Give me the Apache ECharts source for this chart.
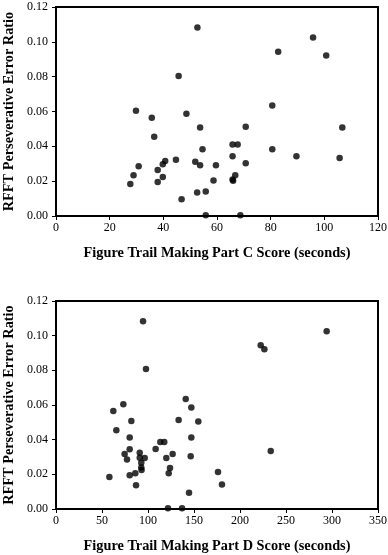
<!DOCTYPE html>
<html>
<head>
<meta charset="utf-8">
<script src="https://cdn.jsdelivr.net/npm/echarts@6/dist/echarts.min.js"></script>
<style>
html,body{margin:0;padding:0;background:#fff;}
#c{width:388px;height:555px;}
</style>
</head>
<body>
<div id="c"></div>
<script>
// Part C scatter data
const partCScore = [27.7,28.9,30.8,36.6,37.9,37.9,39.8,40.7,39.8,44.7,46.8,51.9,52.6,53.7,54.6,55.8,55.8,58.7,59.6,65.8,67.7,65.8,65.8,66.0,66.8,68.7,70.7,80.6,89.6,105.7,
  29.8,35.7,45.7,48.6,52.7,53.7,70.7,80.6,82.8,95.8,100.7,106.7];
const partCRatio = [0.0184,0.0234,0.0285,0.0455,0.0264,0.0195,0.0297,0.0316,0.0224,0.0323,0.0096,0.0312,0.0135,0.0291,0.0383,0.0141,0.0004,0.0204,0.0291,0.0411,0.0411,0.0343,0.0210,0.0202,0.0234,0.0004,0.0303,0.0383,0.0343,0.0333,
  0.0604,0.0564,0.0804,0.0587,0.1083,0.0508,0.0512,0.0635,0.0943,0.1025,0.0922,0.0508];

// Part D scatter data
const partDScore = [58,62.3,65.6,73.2,74.6,77.2,80.1,80.1,80.1,81.9,86.2,87,91,91,92.7,92.7,93,96.4,94.6,97.8,108.3,113.4,117.7,119.9,121.7,122.5,123.9,126.8,133.3,137,141,144.6,146.4,147.1,147.1,154.7,176.1,180.4,222.5,226.5,233.4,294.2];
const partDRatio = [0.0184,0.0565,0.0455,0.0605,0.0317,0.0286,0.0413,0.0344,0.0194,0.0507,0.0206,0.0137,0.0324,0.0296,0.0267,0.0240,0.0225,0.0294,0.1083,0.0807,0.0346,0.0386,0.0386,0.0294,0.0004,0.0206,0.0236,0.0317,0.0513,0.0004,0.0635,0.0094,0.0304,0.0413,0.0586,0.0505,0.0213,0.0142,0.0945,0.0922,0.0334,0.1025];

const yAxisTitle = 'RFFT Perseverative Error Ratio';
const xTitleC = 'Figure Trail Making Part C Score (seconds)';
const xTitleD = 'Figure Trail Making Part D Score (seconds)';

const serif = '"Liberation Serif","Times New Roman",serif';

function xAxis(idx, max, interval, name){
  return {
    type:'value', gridIndex:idx, min:0, max:max, interval:interval,
    name:name, nameLocation:'middle', nameGap:30,
    nameTextStyle:{fontFamily:serif,fontWeight:'bold',fontSize:14.3,color:'#000'},
    axisLine:{show:true,onZero:false,lineStyle:{color:'#000',width:2}},
    axisTick:{show:true,inside:false,length:4,lineStyle:{color:'#000',width:1}},
    axisLabel:{fontFamily:serif,fontSize:12,color:'#000',margin:6},
    splitLine:{show:false}
  };
}
function yAxis(idx){
  return {
    type:'value', gridIndex:idx, min:0, max:0.12, interval:0.02,
    name:yAxisTitle, nameLocation:'middle', nameGap:40,
    nameTextStyle:{fontFamily:serif,fontWeight:'bold',fontSize:14.3,color:'#000'},
    axisLine:{show:true,onZero:false,lineStyle:{color:'#000',width:2}},
    axisTick:{show:true,inside:false,length:4,lineStyle:{color:'#000',width:1}},
    axisLabel:{fontFamily:serif,fontSize:12,color:'#000',margin:8,formatter:v=>v.toFixed(2)},
    splitLine:{show:false}
  };
}

const chart = echarts.init(document.getElementById('c'));
chart.setOption({
  animation:false,
  backgroundColor:'#fff',
  grid:[
    {left:56,top:7,width:322,height:209,containLabel:false,outerBoundsMode:'none',show:true,borderColor:'#000',borderWidth:2,backgroundColor:'transparent'},
    {left:56,top:301,width:322,height:208,containLabel:false,outerBoundsMode:'none',show:true,borderColor:'#000',borderWidth:2,backgroundColor:'transparent'}
  ],
  xAxis:[xAxis(0,120,20,xTitleC), xAxis(1,350,50,xTitleD)],
  yAxis:[yAxis(0), yAxis(1)],
  series:[
    {type:'scatter',xAxisIndex:0,yAxisIndex:0,symbolSize:6.5,itemStyle:{color:'#000'},
     data:partCScore.map((x,i)=>[x,partCRatio[i]])},
    {type:'scatter',xAxisIndex:1,yAxisIndex:1,symbolSize:6.5,itemStyle:{color:'#000'},
     data:partDScore.map((x,i)=>[x,partDRatio[i]])}
  ]
});
</script>
</body>
</html>
